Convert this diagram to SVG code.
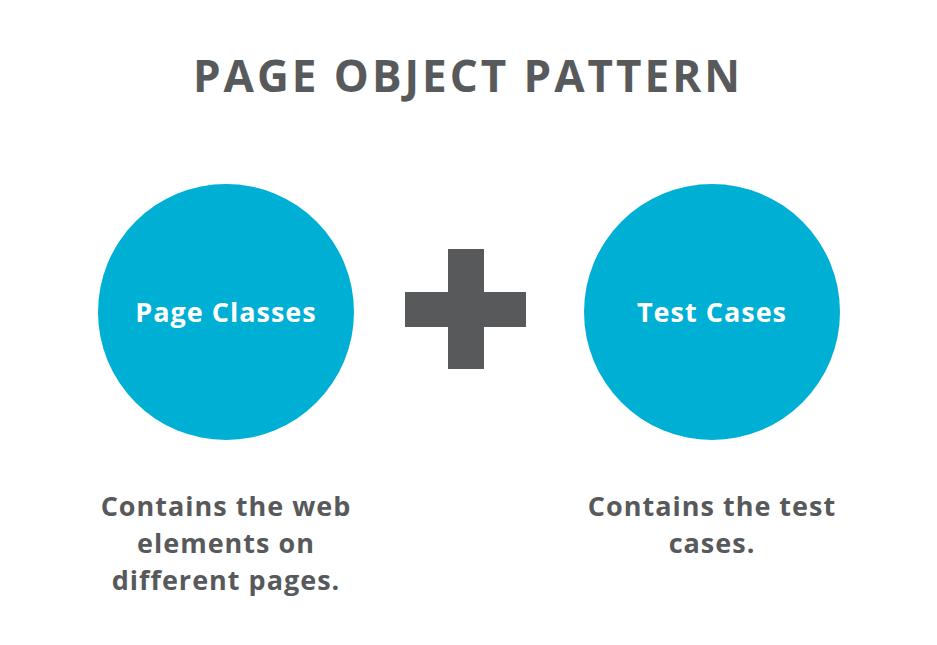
<svg xmlns="http://www.w3.org/2000/svg" width="937" height="645" viewBox="0 0 937 645">
<style>
.c{fill:#00b0d4}
.t{font-family:"Open Sans","Liberation Sans",sans-serif;font-weight:bold;text-anchor:middle}
.w{fill:#fff;font-size:27px;letter-spacing:1px}
.g{fill:#58595b;font-size:27px;letter-spacing:1px}
</style>
<rect width="937" height="645" fill="#fff"/>
<text class="t" x="468" y="92" fill="#58595b" font-size="44" letter-spacing="3">PAGE OBJECT PATTERN</text>
<g id="page-classes"><circle class="c" cx="226" cy="312" r="128"/><text class="t w" x="226" y="322">Page Classes</text></g>
<g id="plus"><rect x="448" y="249" width="36" height="120" fill="#58595b"/><rect x="405" y="292" width="121" height="35" fill="#58595b"/></g>
<g id="test-cases"><circle class="c" cx="712" cy="312" r="128"/><text class="t w" x="712" y="322">Test Cases</text></g>
<g id="desc1"><text class="t g" x="226" y="516">Contains the web</text><text class="t g" x="226" y="553">elements on</text><text class="t g" x="226" y="590">different pages.</text></g>
<g id="desc2"><text class="t g" x="712" y="516">Contains the test</text><text class="t g" x="712" y="553">cases.</text></g>
<g id="connectors"/>
</svg>
